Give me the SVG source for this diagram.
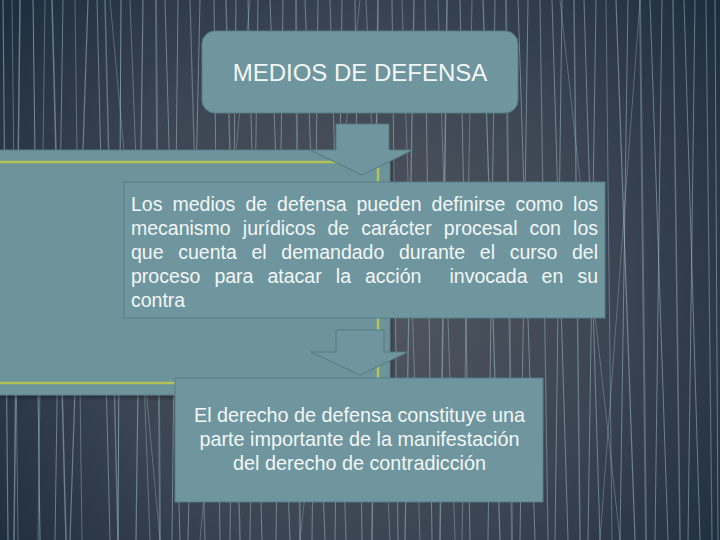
<svg xmlns="http://www.w3.org/2000/svg" width="720" height="540" viewBox="0 0 720 540">
<defs>
<radialGradient id="bg" cx="360" cy="290" r="480" gradientUnits="userSpaceOnUse">
<stop offset="0" stop-color="#545860"/>
<stop offset="0.55" stop-color="#3a4452"/>
<stop offset="1" stop-color="#1a2a3a"/>
</radialGradient>
<filter id="sh" x="-10%" y="-10%" width="130%" height="130%">
<feDropShadow dx="2" dy="2" stdDeviation="2" flood-color="#000" flood-opacity="0.35"/>
</filter>
</defs>
<style>
.ln{stroke:#a9c6ce;fill:none}
.box{fill:#6f969e;stroke:#587d86;stroke-width:1}
.arr{fill:#6f969e;stroke:#557880;stroke-width:1}
.yl{stroke:#b3c35a;stroke-width:2.5;fill:none}
.t{font-family:"Liberation Sans",Arial,sans-serif;fill:#f2f6f6}
</style>
<rect x="0" y="0" width="720" height="540" fill="url(#bg)"/>
<g id="background-lines" class="ln">
<line x1="3" y1="0" x2="8" y2="540" stroke-width="1.2" opacity=".5"/>
<line x1="12" y1="0" x2="18" y2="540" stroke-width="1" opacity=".4"/>
<line x1="20" y1="0" x2="14" y2="540" stroke-width="1.5" opacity=".5"/>
<line x1="33" y1="0" x2="40" y2="540" stroke-width="1" opacity=".6"/>
<line x1="45" y1="0" x2="38" y2="540" stroke-width="1" opacity=".4"/>
<line x1="52" y1="0" x2="66" y2="540" stroke-width="1.5" opacity=".5"/>
<line x1="63" y1="0" x2="55" y2="540" stroke-width="1" opacity=".5"/>
<line x1="75" y1="0" x2="82" y2="540" stroke-width="1" opacity=".4"/>
<line x1="88" y1="0" x2="70" y2="540" stroke-width="1.2" opacity=".5"/>
<line x1="97" y1="0" x2="110" y2="540" stroke-width="1" opacity=".5"/>
<line x1="105" y1="0" x2="118" y2="540" stroke-width="1.5" opacity=".4"/>
<line x1="121" y1="0" x2="118" y2="540" stroke-width="1" opacity=".6"/>
<line x1="130" y1="0" x2="150" y2="540" stroke-width="1" opacity=".4"/>
<line x1="143" y1="0" x2="136" y2="540" stroke-width="1.2" opacity=".5"/>
<line x1="156" y1="0" x2="160" y2="540" stroke-width="2" opacity=".35"/>
<line x1="165" y1="0" x2="180" y2="540" stroke-width="1" opacity=".5"/>
<line x1="178" y1="0" x2="172" y2="540" stroke-width="1" opacity=".5"/>
<line x1="190" y1="0" x2="205" y2="540" stroke-width="1.2" opacity=".4"/>
<line x1="200" y1="0" x2="188" y2="540" stroke-width="1" opacity=".5"/>
<line x1="214" y1="0" x2="220" y2="540" stroke-width="1" opacity=".5"/>
<line x1="226" y1="0" x2="240" y2="540" stroke-width="1.5" opacity=".4"/>
<line x1="236" y1="0" x2="230" y2="540" stroke-width="1" opacity=".5"/>
<line x1="248" y1="0" x2="262" y2="540" stroke-width="1" opacity=".5"/>
<line x1="258" y1="0" x2="250" y2="540" stroke-width="1.2" opacity=".4"/>
<line x1="270" y1="0" x2="290" y2="540" stroke-width="1" opacity=".5"/>
<line x1="283" y1="0" x2="276" y2="540" stroke-width="1" opacity=".5"/>
<line x1="296" y1="0" x2="300" y2="540" stroke-width="2" opacity=".35"/>
<line x1="305" y1="0" x2="325" y2="540" stroke-width="1" opacity=".5"/>
<line x1="318" y1="0" x2="312" y2="540" stroke-width="1" opacity=".5"/>
<line x1="330" y1="0" x2="346" y2="540" stroke-width="1.2" opacity=".4"/>
<line x1="342" y1="0" x2="335" y2="540" stroke-width="1" opacity=".5"/>
<line x1="355" y1="0" x2="362" y2="540" stroke-width="1" opacity=".5"/>
<line x1="366" y1="0" x2="390" y2="540" stroke-width="1" opacity=".4"/>
<line x1="378" y1="0" x2="372" y2="540" stroke-width="1.5" opacity=".5"/>
<line x1="392" y1="0" x2="398" y2="540" stroke-width="1" opacity=".5"/>
<line x1="402" y1="0" x2="420" y2="540" stroke-width="1" opacity=".4"/>
<line x1="414" y1="0" x2="405" y2="540" stroke-width="1.2" opacity=".5"/>
<line x1="425" y1="0" x2="432" y2="540" stroke-width="1" opacity=".5"/>
<line x1="438" y1="0" x2="455" y2="540" stroke-width="1" opacity=".4"/>
<line x1="447" y1="0" x2="440" y2="540" stroke-width="1.5" opacity=".5"/>
<line x1="460" y1="0" x2="470" y2="540" stroke-width="1" opacity=".5"/>
<line x1="472" y1="0" x2="462" y2="540" stroke-width="1" opacity=".4"/>
<line x1="483" y1="0" x2="500" y2="540" stroke-width="1.2" opacity=".5"/>
<line x1="495" y1="0" x2="488" y2="540" stroke-width="1" opacity=".5"/>
<line x1="506" y1="0" x2="512" y2="540" stroke-width="2" opacity=".35"/>
<line x1="518" y1="0" x2="535" y2="540" stroke-width="1" opacity=".5"/>
<line x1="528" y1="0" x2="520" y2="540" stroke-width="1" opacity=".5"/>
<line x1="540" y1="0" x2="548" y2="540" stroke-width="1.2" opacity=".4"/>
<line x1="552" y1="0" x2="568" y2="540" stroke-width="1" opacity=".5"/>
<line x1="562" y1="0" x2="555" y2="540" stroke-width="1" opacity=".5"/>
<line x1="574" y1="0" x2="580" y2="540" stroke-width="1.5" opacity=".4"/>
<line x1="584" y1="0" x2="600" y2="540" stroke-width="1" opacity=".5"/>
<line x1="596" y1="0" x2="588" y2="540" stroke-width="1" opacity=".5"/>
<line x1="606" y1="0" x2="612" y2="540" stroke-width="1" opacity=".4"/>
<line x1="616" y1="0" x2="635" y2="540" stroke-width="1.2" opacity=".5"/>
<line x1="628" y1="0" x2="620" y2="540" stroke-width="1" opacity=".5"/>
<line x1="640" y1="0" x2="646" y2="540" stroke-width="2" opacity=".35"/>
<line x1="650" y1="0" x2="668" y2="540" stroke-width="1" opacity=".5"/>
<line x1="662" y1="0" x2="655" y2="540" stroke-width="1" opacity=".5"/>
<line x1="673" y1="0" x2="680" y2="540" stroke-width="1.5" opacity=".4"/>
<line x1="684" y1="0" x2="700" y2="540" stroke-width="1" opacity=".5"/>
<line x1="695" y1="0" x2="688" y2="540" stroke-width="1" opacity=".5"/>
<line x1="706" y1="0" x2="712" y2="540" stroke-width="1.2" opacity=".4"/>
<line x1="715" y1="0" x2="718" y2="540" stroke-width="1" opacity=".5"/>
<line x1="110" y1="0" x2="160" y2="540" stroke-width="1" opacity=".35"/>
<line x1="360" y1="0" x2="300" y2="540" stroke-width="1" opacity=".35"/>
<line x1="560" y1="0" x2="620" y2="540" stroke-width="1" opacity=".35"/>
<line x1="640" y1="0" x2="600" y2="540" stroke-width="1" opacity=".35"/>
<line x1="250" y1="0" x2="200" y2="540" stroke-width="1" opacity=".35"/>
</g>
<g id="panel">
<rect x="-4" y="150" width="394" height="245" fill="#6d939b" stroke="#5a7d85" stroke-width="1" filter="url(#sh)"/>
<path class="yl" d="M0 162 H378 V383 H0"/>
</g>
<g id="connectors">
<polygon class="arr" points="336,124 389,124 389,150 413,150 362,175 310,150 336,150"/>
<polygon class="arr" points="336,330 384,330 384,352 408,352 360,375 311,352 336,352"/>
</g>
<g id="node-title">
<rect class="box" x="202" y="31" width="316" height="82" rx="13" ry="13" fill="#71979f"/>
<text class="t" x="360" y="81" font-size="24" text-anchor="middle">MEDIOS DE DEFENSA</text>
</g>
<g id="node-definicion">
<rect class="box" x="124" y="182" width="481" height="136"/>
<text class="t" font-size="19.5" y="210.5"><tspan x="131">Los</tspan><tspan x="172.5">medios</tspan><tspan x="245.4">de</tspan><tspan x="277.1">defensa</tspan><tspan x="356.5">pueden</tspan><tspan x="431.6">definirse</tspan><tspan x="515.4">como</tspan><tspan x="573.1">los</tspan></text>
<text class="t" font-size="19.5" y="234.5"><tspan x="131">mecanismo</tspan><tspan x="242.8">jurídicos</tspan><tspan x="327.5">de</tspan><tspan x="361.2">carácter</tspan><tspan x="443.8">procesal</tspan><tspan x="529.5">con</tspan><tspan x="573.1">los</tspan></text>
<text class="t" font-size="19.5" y="258.5"><tspan x="131">que</tspan><tspan x="178.2">cuenta</tspan><tspan x="251.5">el</tspan><tspan x="281.3">demandado</tspan><tspan x="399">durante</tspan><tspan x="479.8">el</tspan><tspan x="509.7">curso</tspan><tspan x="572">del</tspan></text>
<text class="t" font-size="19.5" y="282.5"><tspan x="131">proceso</tspan><tspan x="214.4">para</tspan><tspan x="267.5">atacar</tspan><tspan x="335.8">la</tspan><tspan x="365">acción</tspan><tspan x="449.5">invocada</tspan><tspan x="541.6">en</tspan><tspan x="577.4">su</tspan></text>
<text class="t" font-size="19.5" x="131" y="306.5">contra</text>
</g>
<g id="node-derecho">
<rect class="box" x="175" y="378" width="368" height="124"/>
<text class="t" font-size="19.8" text-anchor="middle" x="359.5" y="422">El derecho de defensa constituye una</text>
<text class="t" font-size="19.8" text-anchor="middle" x="359.5" y="446">parte importante de la manifestación</text>
<text class="t" font-size="19.8" text-anchor="middle" x="359.5" y="470">del derecho de contradicción</text>
</g>
</svg>
